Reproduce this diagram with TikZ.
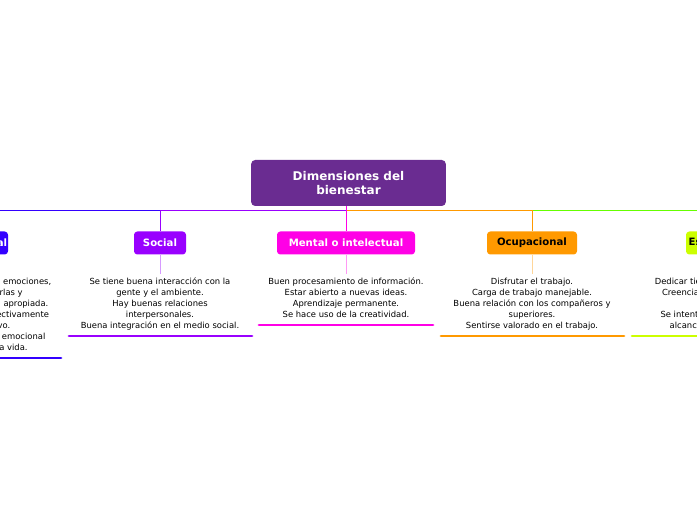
\documentclass[tikz,border=0pt]{standalone}
\usepackage{fontspec}
\setmainfont{DejaVu Sans}
\begin{document}
\begin{tikzpicture}[x=0.75pt,y=-0.75pt,
 box/.style={rounded corners=2.5pt,inner sep=0pt,minimum height=17.25pt,font=\bfseries\fontsize{7.6}{8}\selectfont},
 desc/.style={align=center,font=\fontsize{6.3}{8.25}\selectfont,anchor=north,inner sep=0pt},
 uline/.style={line width=2.2pt,line cap=round}]
\definecolor{cRoot}{HTML}{6A2C91}
\definecolor{cEmo}{HTML}{3300FF}
\definecolor{cSoc}{HTML}{9900FF}
\definecolor{cMen}{HTML}{FF00E6}
\definecolor{cOcu}{HTML}{FF9900}
\definecolor{cEsp}{HTML}{CCFF00}
\definecolor{cLine}{HTML}{66FF00}
\useasboundingbox (0,0) rectangle (697,520);
\clip (0,0) rectangle (697,520);
\node[fill=cRoot,text=white,rounded corners=3pt,minimum width=146pt,minimum height=34.5pt,align=center,font=\bfseries\fontsize{9}{10.5}\selectfont,inner sep=0pt] (root) at (348.5,183) {Dimensiones del\\bienestar};
\coordinate (j) at (346,210);
\draw[cEmo] (j) -- (0,210);
\draw[cSoc] (j) -- (160,210) -- (160,231);
\draw[cLine] (j) -- (697,210);
\draw[cOcu] (j) -- (532,210) -- (532,231);
\draw[cMen] (root.south -| j) -- (346,231);
% nodes
\node[box,fill=cEmo,text=white,minimum width=45pt] (emo) at (-22,243) {Emocional};
\node[box,fill=cSoc,text=white,minimum width=39pt] (soc) at (160,243) {Social};
\node[box,fill=cMen,text=white,minimum width=103.5pt] (men) at (346,243) {Mental o intelectual};
\node[box,fill=cOcu,text=black,minimum width=67.5pt] (ocu) at (532,243) {Ocupacional};
\node[box,fill=cEsp,text=black,minimum width=45pt] (esp) at (716,243) {Espiritual};
\draw[cSoc!40] (soc.south) -- (160,274);
\draw[cMen!40] (men.south) -- (346,274);
\draw[cOcu!40] (ocu.south) -- (532,274);
% descriptions
\node[desc] (t1) at (-19,278) {Ser consciente de las emociones,\\poder expresarlas y\\manejarlas de forma apropiada.\\Afrontar el estrés efectivamente\\y ser positivo.\\Lograr un bienestar emocional\\y disfrutar por la vida.};
\node[desc] (t2) at (160,278) {Se tiene buena interacción con la\\gente y el ambiente.\\Hay buenas relaciones\\interpersonales.\\Buena integración en el medio social.};
\node[desc] (t3) at (346,278) {Buen procesamiento de información.\\Estar abierto a nuevas ideas.\\Aprendizaje permanente.\\Se hace uso de la creatividad.};
\node[desc] (t4) at (532,278) {Disfrutar el trabajo.\\Carga de trabajo manejable.\\Buena relación con los compañeros y\\superiores.\\Sentirse valorado en el trabajo.};
\node[desc] (t5) at (717,278) {Dedicar tiempo a uno mismo.\\Creencia en algo superior.\\\\Se intenta actuar para que\\alcancen su propósito.};
\draw[uline,cEmo] (-110,358) -- (61,358);
\draw[uline,cSoc] (69,336) -- (252,336);
\draw[uline,cMen] (259,325) -- (433,325);
\draw[uline,cOcu] (441,336) -- (624,336);
\draw[uline,cEsp] (632,336) -- (800,336);
\end{tikzpicture}
\end{document}
